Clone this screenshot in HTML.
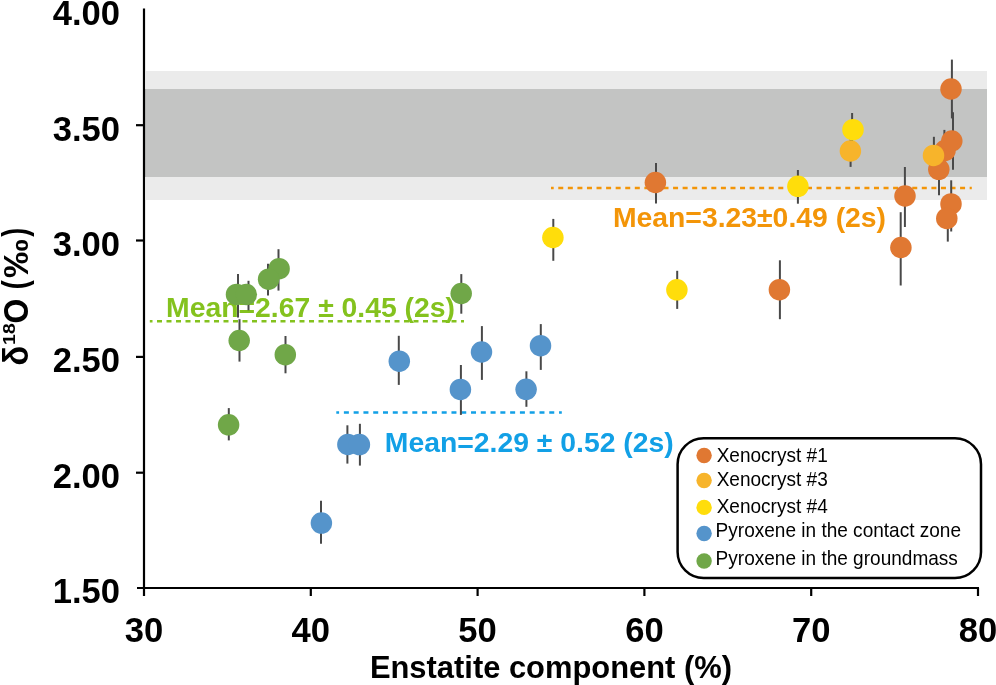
<!DOCTYPE html><html><head><meta charset="utf-8"><style>
html,body{margin:0;padding:0;background:#fff;width:996px;height:685px;overflow:hidden}
svg{display:block;will-change:transform}
text{font-family:"Liberation Sans",sans-serif}
</style></head><body>
<svg width="996" height="685" viewBox="0 0 996 685">
<rect x="146" y="71" width="841" height="129" fill="#EBEBEB"/>
<rect x="145" y="89" width="842" height="88" fill="#C3C4C3"/>
<text x="166.1" y="316.8" font-size="28.35" font-weight="bold" fill="#84C21E">Mean=2.67 ± 0.45 (2s)</text>
<text x="384.8" y="451.8" font-size="28.35" font-weight="bold" fill="#12A0E6">Mean=2.29 ± 0.52 (2s)</text>
<text x="612.9" y="227" font-size="28.35" font-weight="bold" fill="#F39508">Mean=3.23±0.49 (2s)</text>
<line x1="149.8" y1="321.2" x2="464" y2="321.2" stroke="#84C21E" stroke-width="2.5" stroke-dasharray="5 4.5" stroke-dashoffset="2.3"/>
<line x1="336.3" y1="412.5" x2="561.8" y2="412.5" stroke="#12A0E6" stroke-width="2.5" stroke-dasharray="5 4.78" stroke-dashoffset="2.2"/>
<line x1="551" y1="188" x2="971.8" y2="188" stroke="#F39508" stroke-width="2.5" stroke-dasharray="5 4.567" stroke-dashoffset="2.3"/>
<line x1="656" y1="163.1" x2="656" y2="203.6" stroke="#494949" stroke-width="2"/>
<line x1="779.9" y1="260.3" x2="779.9" y2="319.2" stroke="#494949" stroke-width="2"/>
<line x1="904.9" y1="167" x2="904.9" y2="227" stroke="#494949" stroke-width="2"/>
<line x1="900.7" y1="212.2" x2="900.7" y2="285.5" stroke="#494949" stroke-width="2"/>
<line x1="951.9" y1="59.6" x2="951.9" y2="118.4" stroke="#494949" stroke-width="2"/>
<line x1="944.4" y1="129.9" x2="944.4" y2="171.1" stroke="#494949" stroke-width="2"/>
<line x1="953" y1="112.2" x2="953" y2="169.8" stroke="#494949" stroke-width="2"/>
<line x1="939" y1="143.4" x2="939" y2="195.2" stroke="#494949" stroke-width="2"/>
<line x1="951.2" y1="180.3" x2="951.2" y2="231.5" stroke="#494949" stroke-width="2"/>
<line x1="947.8" y1="195.2" x2="947.8" y2="241.6" stroke="#494949" stroke-width="2"/>
<line x1="850.6" y1="135.1" x2="850.6" y2="166.9" stroke="#494949" stroke-width="2"/>
<line x1="933.9" y1="136.8" x2="933.9" y2="174" stroke="#494949" stroke-width="2"/>
<line x1="553.3" y1="218.9" x2="553.3" y2="260.8" stroke="#494949" stroke-width="2"/>
<line x1="677.2" y1="270.8" x2="677.2" y2="308.9" stroke="#494949" stroke-width="2"/>
<line x1="797.9" y1="170" x2="797.9" y2="203.7" stroke="#494949" stroke-width="2"/>
<line x1="852.1" y1="113" x2="852.1" y2="146.4" stroke="#494949" stroke-width="2"/>
<line x1="321" y1="500.8" x2="321" y2="543.7" stroke="#494949" stroke-width="2"/>
<line x1="347.4" y1="425.3" x2="347.4" y2="463.6" stroke="#494949" stroke-width="2"/>
<line x1="359.9" y1="423.8" x2="359.9" y2="465.6" stroke="#494949" stroke-width="2"/>
<line x1="398.8" y1="335.8" x2="398.8" y2="384.9" stroke="#494949" stroke-width="2"/>
<line x1="460.9" y1="365" x2="460.9" y2="414.9" stroke="#494949" stroke-width="2"/>
<line x1="481.9" y1="326.1" x2="481.9" y2="379.9" stroke="#494949" stroke-width="2"/>
<line x1="526.4" y1="371.3" x2="526.4" y2="406.8" stroke="#494949" stroke-width="2"/>
<line x1="540.8" y1="324.1" x2="540.8" y2="369.9" stroke="#494949" stroke-width="2"/>
<line x1="238" y1="274" x2="238" y2="317.6" stroke="#494949" stroke-width="2"/>
<line x1="248.5" y1="280.8" x2="248.5" y2="310.3" stroke="#494949" stroke-width="2"/>
<line x1="278.5" y1="249.2" x2="278.5" y2="290.6" stroke="#494949" stroke-width="2"/>
<line x1="268" y1="263.8" x2="268" y2="295.6" stroke="#494949" stroke-width="2"/>
<line x1="239.5" y1="319.2" x2="239.5" y2="361.6" stroke="#494949" stroke-width="2"/>
<line x1="285.5" y1="336" x2="285.5" y2="373.3" stroke="#494949" stroke-width="2"/>
<line x1="228.8" y1="408.1" x2="228.8" y2="440.4" stroke="#494949" stroke-width="2"/>
<line x1="461.3" y1="274.1" x2="461.3" y2="313.7" stroke="#494949" stroke-width="2"/>
<circle cx="655.4" cy="182.5" r="10.75" fill="#E07832"/>
<circle cx="779.4" cy="289.7" r="10.75" fill="#E07832"/>
<circle cx="905" cy="196" r="10.75" fill="#E07832"/>
<circle cx="900.9" cy="247.5" r="10.75" fill="#E07832"/>
<circle cx="951" cy="89" r="10.75" fill="#E07832"/>
<circle cx="945" cy="150.5" r="10.75" fill="#E07832"/>
<circle cx="951.8" cy="141" r="10.75" fill="#E07832"/>
<circle cx="938.8" cy="169.3" r="10.75" fill="#E07832"/>
<circle cx="951" cy="203.9" r="10.75" fill="#E07832"/>
<circle cx="946.8" cy="218.4" r="10.75" fill="#E07832"/>
<circle cx="850.4" cy="151" r="10.75" fill="#F7B42B"/>
<circle cx="933.5" cy="155.4" r="10.75" fill="#F7B42B"/>
<circle cx="552.9" cy="237.5" r="10.75" fill="#FFDD0B"/>
<circle cx="676.9" cy="289.8" r="10.75" fill="#FFDD0B"/>
<circle cx="797.9" cy="186.3" r="10.75" fill="#FFDD0B"/>
<circle cx="853" cy="129.7" r="10.75" fill="#FFDD0B"/>
<circle cx="321.4" cy="523.1" r="10.75" fill="#5594CB"/>
<circle cx="347.9" cy="444.4" r="10.75" fill="#5594CB"/>
<circle cx="359.4" cy="444.6" r="10.75" fill="#5594CB"/>
<circle cx="399.3" cy="361.2" r="10.75" fill="#5594CB"/>
<circle cx="460.4" cy="389.4" r="10.75" fill="#5594CB"/>
<circle cx="481.5" cy="352" r="10.75" fill="#5594CB"/>
<circle cx="526.1" cy="389.3" r="10.75" fill="#5594CB"/>
<circle cx="540.5" cy="345.7" r="10.75" fill="#5594CB"/>
<circle cx="236.5" cy="294.4" r="10.75" fill="#70A748"/>
<circle cx="246.3" cy="294.5" r="10.75" fill="#70A748"/>
<circle cx="279.1" cy="268.7" r="10.75" fill="#70A748"/>
<circle cx="268.6" cy="279.2" r="10.75" fill="#70A748"/>
<circle cx="239.2" cy="340.5" r="10.75" fill="#70A748"/>
<circle cx="285.3" cy="354.7" r="10.75" fill="#70A748"/>
<circle cx="228.6" cy="424.8" r="10.75" fill="#70A748"/>
<circle cx="461.2" cy="293.5" r="10.75" fill="#70A748"/>
<line x1="144" y1="8.5" x2="144" y2="596" stroke="#000" stroke-width="2.2"/>
<line x1="137" y1="588" x2="979" y2="588" stroke="#000" stroke-width="2.2"/>
<line x1="310.8" y1="588" x2="310.8" y2="596" stroke="#000" stroke-width="2.2"/>
<line x1="477.6" y1="588" x2="477.6" y2="596" stroke="#000" stroke-width="2.2"/>
<line x1="644.4" y1="588" x2="644.4" y2="596" stroke="#000" stroke-width="2.2"/>
<line x1="811.2" y1="588" x2="811.2" y2="596" stroke="#000" stroke-width="2.2"/>
<line x1="978.0" y1="588" x2="978.0" y2="596" stroke="#000" stroke-width="2.2"/>
<line x1="136" y1="125.2" x2="144" y2="125.2" stroke="#000" stroke-width="2.2"/>
<line x1="136" y1="240.5" x2="144" y2="240.5" stroke="#000" stroke-width="2.2"/>
<line x1="136" y1="356.9" x2="144" y2="356.9" stroke="#000" stroke-width="2.2"/>
<line x1="136" y1="472.7" x2="144" y2="472.7" stroke="#000" stroke-width="2.2"/>
<text x="120" y="24.85" font-size="34.6" font-weight="bold" text-anchor="end" fill="#000">4.00</text>
<text x="120" y="140.55" font-size="34.6" font-weight="bold" text-anchor="end" fill="#000">3.50</text>
<text x="120" y="255.85" font-size="34.6" font-weight="bold" text-anchor="end" fill="#000">3.00</text>
<text x="120" y="372.25" font-size="34.6" font-weight="bold" text-anchor="end" fill="#000">2.50</text>
<text x="120" y="488.05" font-size="34.6" font-weight="bold" text-anchor="end" fill="#000">2.00</text>
<text x="120" y="603.35" font-size="34.6" font-weight="bold" text-anchor="end" fill="#000">1.50</text>
<text x="144.0" y="641.6" font-size="34.6" font-weight="bold" text-anchor="middle" fill="#000">30</text>
<text x="310.8" y="641.6" font-size="34.6" font-weight="bold" text-anchor="middle" fill="#000">40</text>
<text x="477.6" y="641.6" font-size="34.6" font-weight="bold" text-anchor="middle" fill="#000">50</text>
<text x="644.4" y="641.6" font-size="34.6" font-weight="bold" text-anchor="middle" fill="#000">60</text>
<text x="811.2" y="641.6" font-size="34.6" font-weight="bold" text-anchor="middle" fill="#000">70</text>
<text x="978.0" y="641.6" font-size="34.6" font-weight="bold" text-anchor="middle" fill="#000">80</text>
<text x="369.9" y="677.6" font-size="30.9" font-weight="bold" fill="#000">Enstatite component (%)</text>
<text transform="translate(28,365.57) rotate(-90) scale(0.920,1)" font-size="35.4" font-weight="bold" fill="#000">δ</text>
<text transform="translate(14.6,344.93) rotate(-90) scale(1.118,1)" font-size="17.4" font-weight="bold" fill="#000">18</text>
<text transform="translate(27.65,323.41) rotate(-90) scale(0.923,1)" font-size="34.6" font-weight="bold" fill="#000">O</text>
<text transform="translate(26.6,289.14) rotate(-90) scale(0.780,1)" font-size="34.4" font-weight="bold" fill="#000">(</text>
<text transform="translate(28,277.98) rotate(-90) scale(1.120,1)" font-size="34.7" font-weight="bold" fill="#000">‰</text>
<text transform="translate(26.6,236.63) rotate(-90) scale(0.780,1)" font-size="34.4" font-weight="bold" fill="#000">)</text>
<rect x="677.6" y="438.2" width="303.4" height="139.8" rx="26" ry="26" fill="#fff" stroke="#000" stroke-width="2.5"/>
<circle cx="704.1" cy="455.5" r="7.7" fill="#E07832"/>
<text transform="translate(716.66,461.8) scale(0.952,1)" font-size="20" fill="#000">Xenocryst #1</text>
<circle cx="704.1" cy="480.5" r="7.7" fill="#F7B42B"/>
<text transform="translate(716.66,486.1) scale(0.952,1)" font-size="20" fill="#000">Xenocryst #3</text>
<circle cx="704.1" cy="507.4" r="7.7" fill="#FFDD0B"/>
<text transform="translate(716.66,512.6) scale(0.952,1)" font-size="20" fill="#000">Xenocryst #4</text>
<circle cx="704.1" cy="533.5" r="7.7" fill="#5594CB"/>
<text transform="translate(715.6,537) scale(0.952,1)" font-size="20" fill="#000">Pyroxene in the contact zone</text>
<circle cx="704.1" cy="561" r="7.7" fill="#70A748"/>
<text transform="translate(715.6,565.4) scale(0.952,1)" font-size="20" fill="#000">Pyroxene in the groundmass</text>
</svg></body></html>
